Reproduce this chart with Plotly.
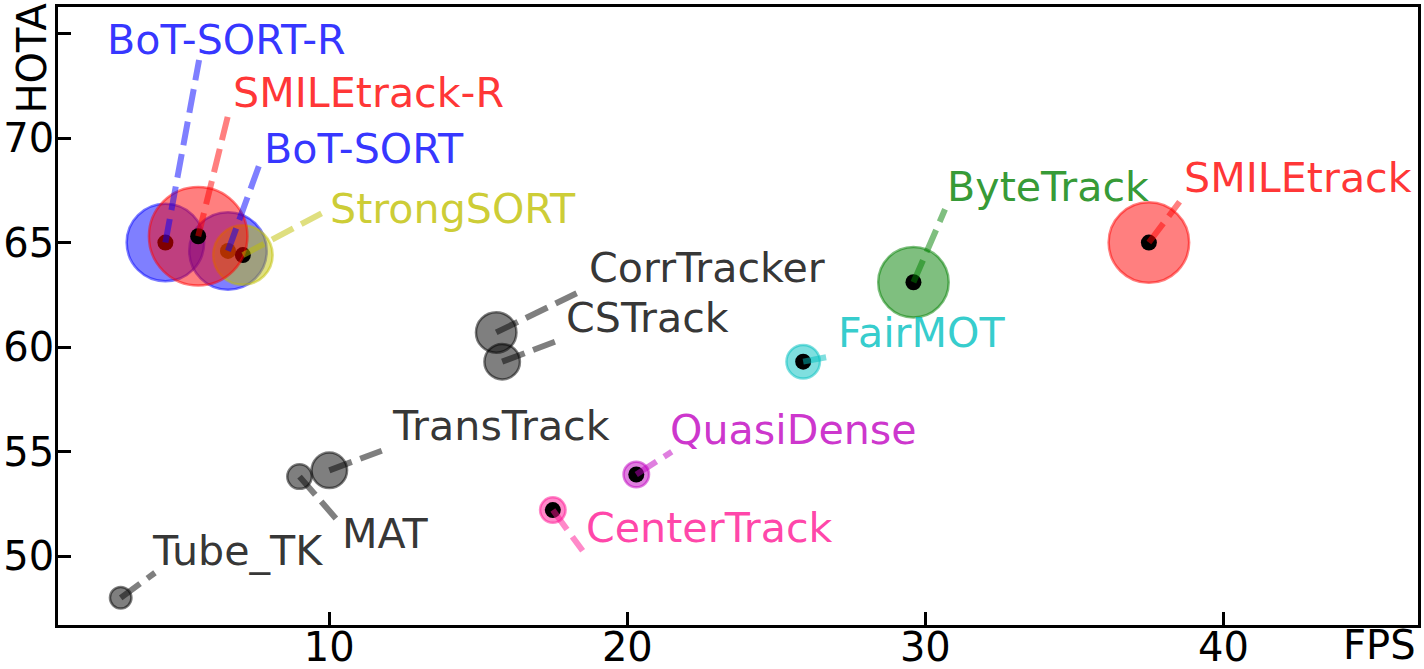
import plotly.graph_objects as go

# ---- data ----
names = ["BoT-SORT-R", "BoT-SORT", "StrongSORT", "SMILEtrack-R", "SMILEtrack",
         "ByteTrack", "FairMOT", "QuasiDense", "CenterTrack", "CorrTracker",
         "CSTrack", "TransTrack", "MAT", "Tube_TK"]
fps = [4.5, 6.6, 7.1, 5.6, 37.5, 29.6, 25.9, 20.3, 17.5, 15.6, 15.8, 10.0, 9.0, 3.0]
hota = [65.0, 64.6, 64.4, 65.3, 65.0, 63.1, 59.3, 53.9, 52.2, 60.7, 59.3, 54.1, 53.8, 48.0]
x_ticks = [10, 20, 30, 40]
y_ticks = [50, 55, 60, 65, 70, 75]
y_tick_text = ["50", "55", "60", "65", "70", ""]

# ---- styles ----
base_rgb = {
    "BoT-SORT-R": (0, 0, 255), "BoT-SORT": (0, 0, 255), "StrongSORT": (191, 191, 0),
    "SMILEtrack-R": (255, 0, 0), "SMILEtrack": (255, 0, 0), "ByteTrack": (0, 128, 0),
    "FairMOT": (0, 191, 191), "QuasiDense": (191, 0, 191), "CenterTrack": (255, 20, 147),
    "CorrTracker": (0, 0, 0), "CSTrack": (0, 0, 0), "TransTrack": (0, 0, 0),
    "MAT": (0, 0, 0), "Tube_TK": (0, 0, 0),
}
bubble_px = {
    "BoT-SORT-R": 80, "BoT-SORT": 80, "StrongSORT": 62, "SMILEtrack-R": 101,
    "SMILEtrack": 83, "ByteTrack": 73, "FairMOT": 36, "QuasiDense": 28,
    "CenterTrack": 28, "CorrTracker": 43, "CSTrack": 38, "TransTrack": 38,
    "MAT": 27, "Tube_TK": 24,
}
with_dot = {"BoT-SORT-R", "BoT-SORT", "StrongSORT", "SMILEtrack-R", "SMILEtrack",
            "ByteTrack", "FairMOT", "QuasiDense", "CenterTrack"}
# label placement (text left / middle) and leader-line end, in data units
label_pos = {
    "BoT-SORT-R": (2.51, 74.70), "SMILEtrack-R": (6.73, 72.17), "BoT-SORT": (7.77, 69.49),
    "StrongSORT": (9.98, 66.62), "ByteTrack": (30.68, 67.68), "SMILEtrack": (38.65, 68.08),
    "CorrTracker": (18.69, 63.78), "CSTrack": (17.91, 61.41), "FairMOT": (27.03, 60.68),
    "QuasiDense": (21.41, 56.04), "CenterTrack": (18.58, 51.34), "TransTrack": (12.06, 56.20),
    "MAT": (10.38, 51.05), "Tube_TK": (4.01, 50.22),
}
line_end = {
    "BoT-SORT-R": (5.63, 73.73), "SMILEtrack-R": (6.59, 71.02), "BoT-SORT": (7.67, 68.79),
    "StrongSORT": (9.74, 66.40), "ByteTrack": (30.66, 66.59), "SMILEtrack": (38.53, 66.95),
    "CorrTracker": (18.30, 62.57), "CSTrack": (17.57, 60.25), "FairMOT": (26.67, 59.51),
    "QuasiDense": (21.49, 54.99), "CenterTrack": (18.50, 50.25), "TransTrack": (11.76, 55.04),
    "MAT": (10.22, 51.80), "Tube_TK": (4.15, 49.20),
}

FONT = "DejaVu Sans"
FS_LABEL = 41.2
FS_TICK = 40


def rgba(rgb, a):
    return "rgba(%d,%d,%d,%.2f)" % (rgb[0], rgb[1], rgb[2], a)


fig = go.Figure()

# bubbles and centre dots
for i, n in enumerate(names):
    c = base_rgb[n]
    fig.add_trace(go.Scatter(
        x=[fps[i]], y=[hota[i]], mode="markers", hoverinfo="skip", showlegend=False,
        marker=dict(size=bubble_px[n] - 2.5, color=rgba(c, 0.5),
                    line=dict(color=rgba(c, 0.5), width=2.5)),
    ))
    if n in with_dot:
        fig.add_trace(go.Scatter(
            x=[fps[i]], y=[hota[i]], mode="markers", hoverinfo="skip", showlegend=False,
            marker=dict(size=16, color="black", line=dict(width=0)),
        ))

# dashed leader lines
for i, n in enumerate(names):
    c = base_rgb[n]
    ex, ey = line_end[n]
    fig.add_trace(go.Scatter(
        x=[fps[i], ex], y=[hota[i], ey], mode="lines", hoverinfo="skip", showlegend=False,
        line=dict(color=rgba(c, 0.5), width=6, dash="24px,9px"),
    ))

annotations = []
for n in names:
    tx, ty = label_pos[n]
    annotations.append(dict(
        x=tx, y=ty, xref="x", yref="y", text=n, showarrow=False,
        xanchor="left", yanchor="middle", borderpad=0,
        font=dict(family=FONT, size=FS_LABEL, color=rgba(base_rgb[n], 0.8)),
    ))

annotations.append(dict(
    x=31, y=58.5, xref="paper", yref="paper", text="HOTA", showarrow=False,
    textangle=-90, xanchor="center", yanchor="middle", borderpad=0,
    font=dict(family=FONT, size=FS_TICK, color="black"),
))
annotations.append(dict(
    x=1379, y=645, xref="paper", yref="paper", text="FPS", showarrow=False,
    xanchor="center", yanchor="middle", borderpad=0,
    font=dict(family=FONT, size=FS_TICK, color="black"),
))

# convert pixel positions of axis words to paper coordinates
L, R, T, B = 58, 6, 7, 44
W, H = 1424, 669
pw, ph = W - L - R, H - T - B
for a in annotations[-2:]:
    a["x"] = (a["x"] - L) / pw
    a["y"] = (H - B - a["y"]) / ph

axis_common = dict(
    showgrid=False, zeroline=False, showline=True, mirror=True, automargin=False,
    linecolor="black", linewidth=2.5, ticks="inside", ticklen=13,
    tickwidth=2.5, tickcolor="black",
    tickfont=dict(family=FONT, size=FS_TICK, color="black"),
)

fig.update_layout(
    width=W, height=H,
    margin=dict(l=L, r=R, t=T, b=B, autoexpand=False),
    paper_bgcolor="white", plot_bgcolor="white",
    xaxis=dict(range=[0.896, 46.53], tickvals=x_ticks, ticklabelstandoff=-15, **axis_common),
    yaxis=dict(range=[46.70, 76.27], tickvals=y_ticks, ticktext=y_tick_text,
               ticklabelstandoff=-7, **axis_common),
    annotations=annotations,
    font=dict(family=FONT),
)

fig.write_html("out.html", config={"displayModeBar": False})

# remove the browser's default page margin so the figure sits at the window origin
with open("out.html", "r", encoding="utf-8") as f:
    html = f.read()
html = html.replace("<head>", "<head><style>html,body{margin:0;padding:0;overflow:hidden;}</style>", 1)
with open("out.html", "w", encoding="utf-8") as f:
    f.write(html)
